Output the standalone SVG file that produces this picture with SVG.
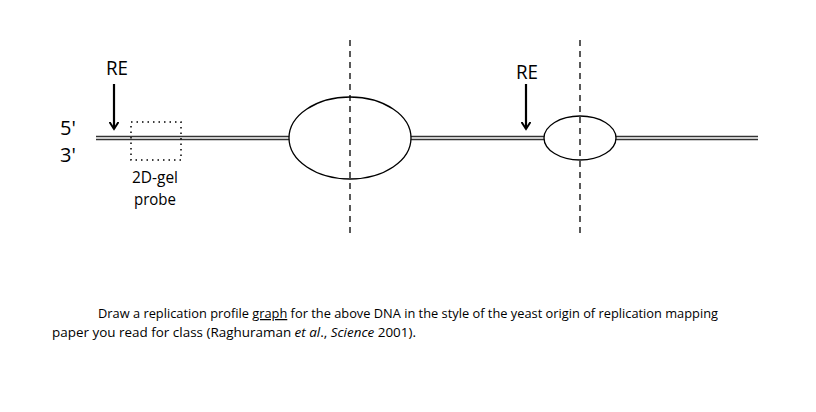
<svg xmlns="http://www.w3.org/2000/svg" width="816" height="412" viewBox="0 0 816 412">
<style>
text{font-family:"Open Sans","Liberation Sans",sans-serif;fill:#000}
.dna{stroke:#333;stroke-width:1.3;fill:none}
.bub{stroke:#000;stroke-width:1.3;fill:#fff}
.dash{stroke:#000;stroke-width:1.3;stroke-dasharray:6,5}
</style>
<defs><marker id="ah" markerWidth="10" markerHeight="10" refX="7" refY="4.5" orient="auto" markerUnits="userSpaceOnUse"><path d="M0,0 L7,4.5 L0,9" fill="none" stroke="#000" stroke-width="2"/></marker></defs>
<rect width="816" height="412" fill="#fff"/>
<g id="connectors">
<line class="dna" x1="96" y1="136.5" x2="758" y2="136.5"/>
<line class="dna" x1="96" y1="139.5" x2="758" y2="139.5"/>
<line x1="114" y1="84" x2="114" y2="129" stroke="#000" stroke-width="2.2" marker-end="url(#ah)"/>
<line x1="526" y1="84" x2="526" y2="129" stroke="#000" stroke-width="2.2" marker-end="url(#ah)"/>
</g>
<g id="bubble1"><ellipse class="bub" cx="350" cy="138" rx="61" ry="41"/></g>
<g id="bubble2"><ellipse class="bub" cx="580" cy="138" rx="36" ry="22"/></g>
<line class="dash" x1="350" y1="40" x2="350" y2="236"/>
<line class="dash" x1="580" y1="40" x2="580" y2="236"/>
<g id="probe"><rect x="131" y="122" width="50" height="38" fill="none" stroke="#000" stroke-width="1.5" stroke-dasharray="1.5,4"/>
<text x="155" y="183" font-size="16" text-anchor="middle" textLength="46" lengthAdjust="spacingAndGlyphs">2D-gel</text>
<text x="155" y="205" font-size="16" text-anchor="middle" textLength="42" lengthAdjust="spacingAndGlyphs">probe</text></g>
<g id="labels">
<text x="117" y="75" font-size="20" text-anchor="middle" textLength="22" lengthAdjust="spacingAndGlyphs">RE</text>
<text x="527" y="79" font-size="20" text-anchor="middle" textLength="22" lengthAdjust="spacingAndGlyphs">RE</text>
<text x="60" y="135" font-size="20">5'</text>
<text x="60" y="162" font-size="20">3'</text>
</g>
<g id="caption" font-size="12.5">
<text x="98" y="318" textLength="620" lengthAdjust="spacingAndGlyphs">Draw a replication profile <tspan text-decoration="underline">graph</tspan> for the above DNA in the style of the yeast origin of replication mapping</text>
<text x="52" y="337" textLength="364" lengthAdjust="spacingAndGlyphs">paper you read for class (Raghuraman <tspan font-style="italic">et al</tspan>., <tspan font-style="italic">Science</tspan> 2001).</text>
</g>
</svg>
